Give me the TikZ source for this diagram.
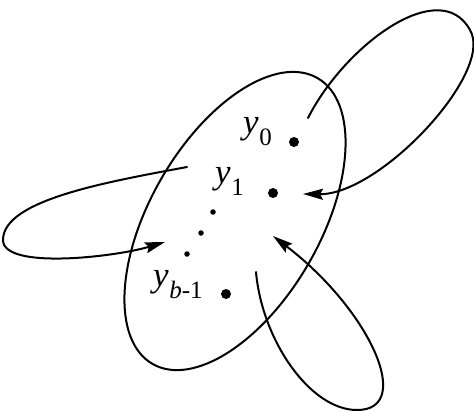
\documentclass[tikz,border=0pt]{standalone}
\usepackage{fontspec}
\setmainfont{Liberation Serif}
\usetikzlibrary{shapes.geometric,arrows.meta}
\tikzset{
  curve/.style={line width=2pt, line cap=round},
  arr/.style={curve, -{Stealth[length=20pt,width=11pt,inset=3pt]}},
  bigdot/.style={circle, fill=black, inner sep=0pt, minimum size=10pt},
  smalldot/.style={circle, fill=black, inner sep=0pt, minimum size=5.5pt},
  lab/.style={inner sep=0pt, anchor=base west, font=\fontsize{35}{35}\selectfont}
}
\newcommand{\subtxt}[1]{\kern0.5pt\lower12pt\hbox{\fontsize{25}{25}\selectfont #1}}
\begin{document}
\begin{tikzpicture}[x=1pt,y=-1pt]
\useasboundingbox (0,0) rectangle (474,412);
% central ellipse
\node[draw, ellipse, line width=2pt, minimum width=330pt, minimum height=170pt,
      inner sep=0pt, rotate=60] (E) at (235,221) {};
% points
\node[bigdot] (d0) at (294,142) {};
\node[bigdot] (d1) at (273,193) {};
\node[smalldot] (s1) at (213,212) {};
\node[smalldot] (s2) at (201,233) {};
\node[smalldot] (s3) at (187,254) {};
\node[bigdot] (db) at (226,294) {};
% labels
\node[lab] (l0) at (243,133) {\textit{y}\subtxt{0}};
\node[lab] (l1) at (215,183) {\textit{y}\subtxt{1}};
\node[lab] (lb) at (153,286) {\textit{y}\subtxt{\textit{b}-1}};
% loop ends
\coordinate (a1) at (308,118);
\coordinate (p1) at (470,30);
\coordinate (t1) at (303,194);
\coordinate (a2) at (187,167);
\coordinate (p2) at (3,240);
\coordinate (t2) at (165,242);
\coordinate (a3) at (256,272);
\coordinate (p3) at (357,410);
\coordinate (t3) at (273,236);
% loops
\draw[arr] (a1) .. controls (345,45) and (440,-25) .. (p1)
               .. controls (495,72) and (380,195) .. (t1);
\draw[arr] (a2) .. controls (107,182) and (3,200) .. (p2)
               .. controls (3,270) and (115,257) .. (t2);
\draw[arr] (a3) .. controls (262,340) and (310,410) .. (p3)
               .. controls (415,410) and (370,310) .. (t3);
\end{tikzpicture}
\end{document}
